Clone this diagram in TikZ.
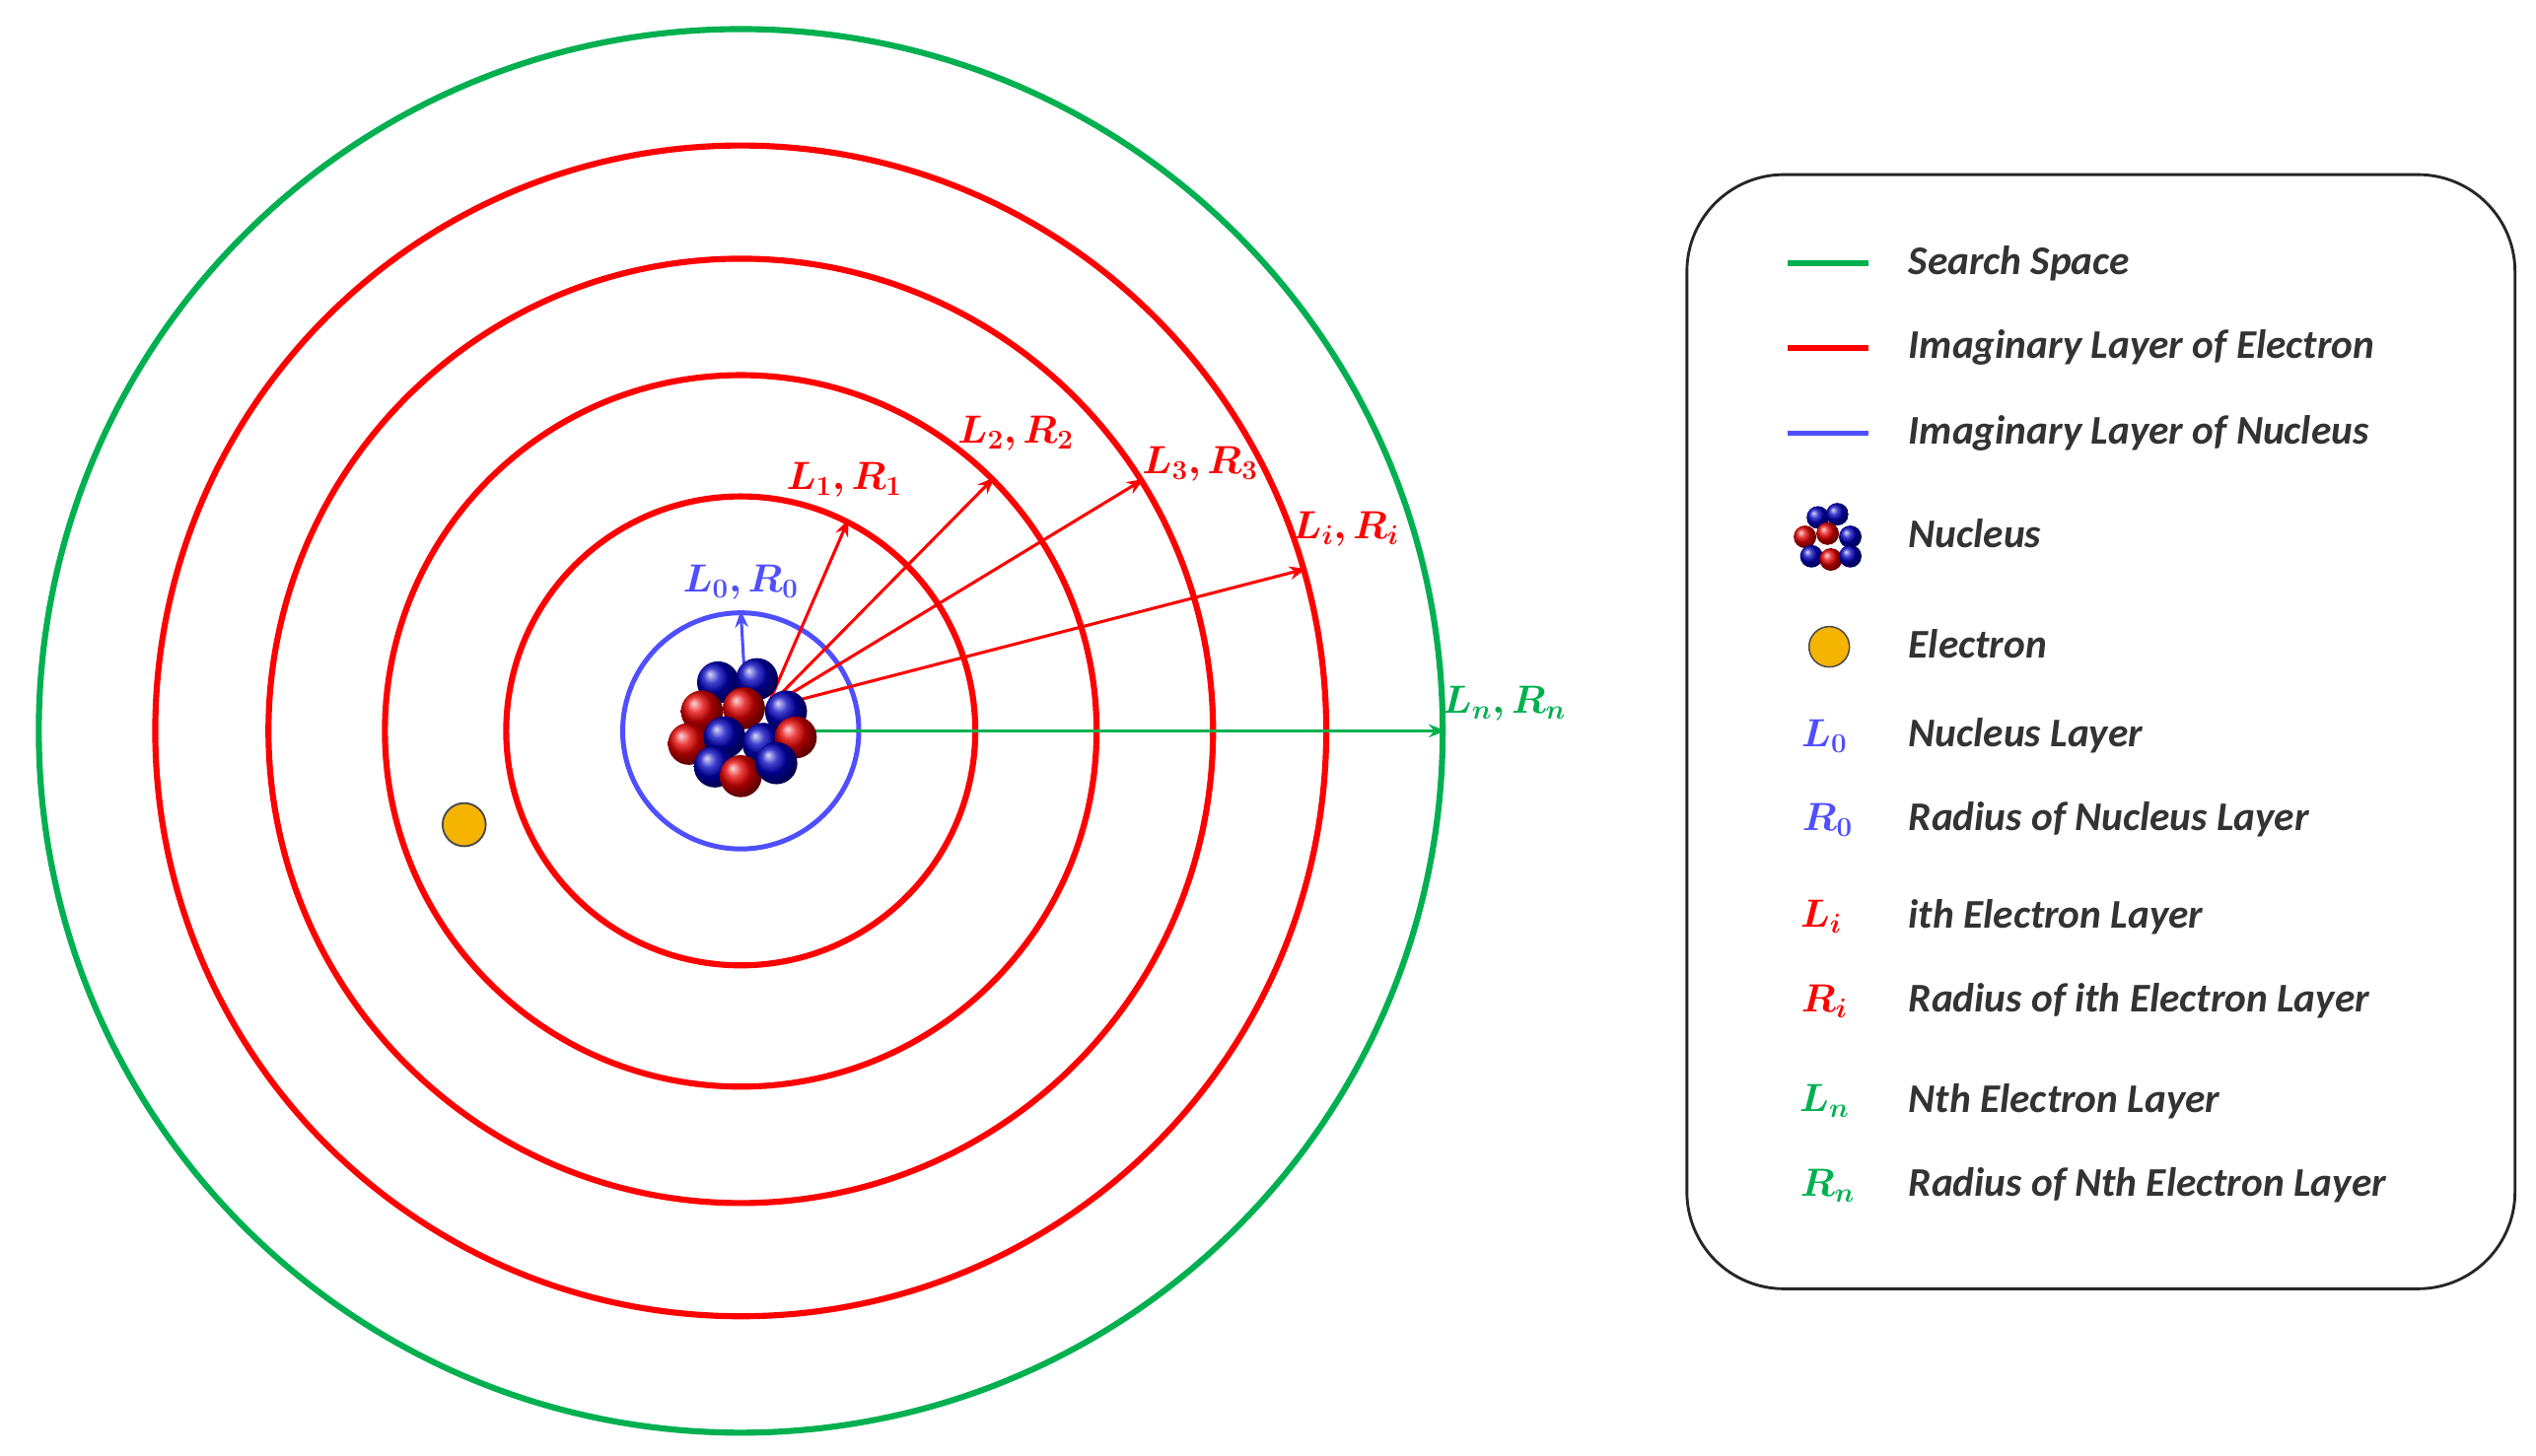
\documentclass[tikz,border=0pt]{standalone}
\usepackage{fontspec}
\setmainfont{Carlito}
\usepackage{amsmath,bm}
\usetikzlibrary{arrows.meta}
\definecolor{gr}{HTML}{00B050}
\definecolor{rd}{HTML}{FF0000}
\definecolor{bl}{HTML}{4F4FFF}
\definecolor{org}{HTML}{F5B400}
\begin{document}
\begin{tikzpicture}[x=0.03cm,y=-0.03cm,
  ring/.style={circle,draw=#1,line width=3.2pt,inner sep=0pt},
  arr/.style={-{Stealth[length=9pt,width=7pt]},line width=1.6pt,draw=#1},
  lab/.style={text=#1,font=\fontsize{22}{26}\selectfont},
  leg/.style={anchor=west,font=\fontsize{21.5}{24}\selectfont\bfseries\itshape,text=black!80},
  sym/.style={font=\fontsize{22}{26}\selectfont,text=#1},
  ballr/.style={circle,shading=ball,ball color=red!90!black,minimum size=0.78cm,inner sep=0pt},
  ballb/.style={circle,shading=ball,ball color=blue!75!black,minimum size=0.78cm,inner sep=0pt},
  sballr/.style={ballr,minimum size=0.42cm},
  sballb/.style={ballb,minimum size=0.42cm}]
\useasboundingbox (0,0) rectangle (1568,900);
\coordinate (O) at (458,452);
\node[ring=gr,minimum size=26.04cm] (cg) at (O) {};
\node[ring=rd,minimum size=21.72cm] (c4) at (O) {};
\node[ring=rd,minimum size=17.52cm] (c3) at (O) {};
\node[ring=rd,minimum size=13.2cm] (c2) at (O) {};
\node[ring=rd,minimum size=8.7cm] (c1) at (O) {};
\node[ring=bl,minimum size=4.38cm,line width=2.6pt] (cb) at (O) {};
\coordinate (nc) at (474,438);
\coordinate (top) at (460,412);
\coordinate (rs) at (496,452);
\draw[arr=rd] (nc) -- (c1.63);
\draw[arr=rd] (nc) -- (c2.45);
\draw[arr=rd] (nc) -- (c3.32);
\draw[arr=rd] (nc) -- (c4.16);
\draw[arr=bl] (top) -- (cb.90);
\draw[arr=gr] (rs) -- (cg.0);
\node[ballb] (n1) at (444,422) {};
\node[ballb] (n2) at (468,420) {};
\node[ballr] (n3) at (434,440) {};
\node[ballb] (n4) at (486,440) {};
\node[ballr] (n5) at (460,438) {};
\node[ballr] (n6) at (426,460) {};
\node[ballb] (n7) at (448,456) {};
\node[ballb] (n8) at (472,460) {};
\node[ballr] (n9) at (492,456) {};
\node[ballb] (n10) at (442,474) {};
\node[ballr] (n11) at (458,480) {};
\node[ballb] (n12) at (480,472) {};
\node[circle,draw=black!70,fill=org,line width=1pt,minimum size=0.8cm] (el) at (287,510) {};
\node[lab=rd] (l1) at (522,297) {$\bm{L_1,R_1}$};
\node[lab=rd] (l2) at (628,268) {$\bm{L_2,R_2}$};
\node[lab=rd] (l3) at (742,287) {$\bm{L_3,R_3}$};
\node[lab=rd] (li) at (832,327) {$\bm{L_i,R_i}$};
\node[lab=bl] (l0) at (458,360) {$\bm{L_0,R_0}$};
\node[lab=gr] (ln) at (930,435) {$\bm{L_n,R_n}$};
% legend
\node[draw=black!85,line width=1.5pt,rounded corners=1.8cm,minimum width=15.36cm,minimum height=20.67cm] (box) at (1299,452.5) {};
\draw[gr,line width=3pt] (1105,163) coordinate (a1) -- (1155,163) coordinate (a2);
\draw[rd,line width=3pt] (1105,215) coordinate (b1) -- (1155,215) coordinate (b2);
\draw[bl,line width=3pt] (1105,268) coordinate (d1) -- (1155,268) coordinate (d2);
\node[leg] (t1) at (1176,163) {Search Space};
\node[leg] (t2) at (1176,215) {Imaginary Layer of Electron};
\node[leg] (t3) at (1176,268) {Imaginary Layer of Nucleus};
\node[sballb] (m1) at (1124,320) {};
\node[sballb] (m2) at (1136,318) {};
\node[sballr] (m3) at (1116,332) {};
\node[sballr] (m4) at (1130,330) {};
\node[sballb] (m5) at (1144,332) {};
\node[sballb] (m6) at (1120,344) {};
\node[sballr] (m7) at (1132,346) {};
\node[sballb] (m8) at (1144,344) {};
\node[leg] (t4) at (1176,330) {Nucleus};
\node[circle,draw=black!70,fill=org,line width=0.8pt,minimum size=0.75cm] (e2) at (1131,400) {};
\node[leg] (t5) at (1176,398) {Electron};
\node[sym=bl] (s1) at (1128,455) {$\bm{L_0}$};
\node[leg] (t6) at (1176,455) {Nucleus Layer};
\node[sym=bl] (s2) at (1130,507) {$\bm{R_0}$};
\node[leg] (t7) at (1176,507) {Radius of Nucleus Layer};
\node[sym=rd] (s3) at (1126,567) {$\bm{L_i}$};
\node[leg] (t8) at (1176,567) {ith Electron Layer};
\node[sym=rd] (s4) at (1128,619) {$\bm{R_i}$};
\node[leg] (t9) at (1176,619) {Radius of ith Electron Layer};
\node[sym=gr] (s5) at (1128,681) {$\bm{L_n}$};
\node[leg] (t10) at (1176,681) {Nth Electron Layer};
\node[sym=gr] (s6) at (1130,733) {$\bm{R_n}$};
\node[leg] (t11) at (1176,733) {Radius of Nth Electron Layer};
\end{tikzpicture}
\end{document}
